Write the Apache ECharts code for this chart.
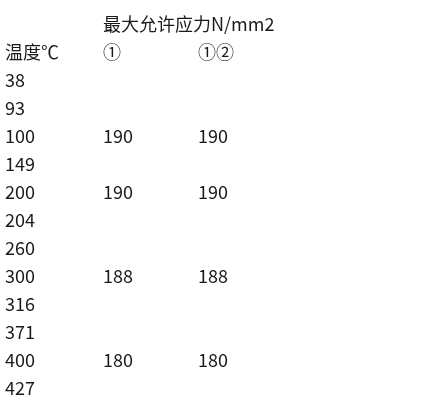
<!DOCTYPE html>
<html><head><meta charset="utf-8">
<script src="https://cdn.jsdelivr.net/npm/echarts@6/dist/echarts.min.js"></script>
<style>html,body{margin:0;padding:0;background:#fff}#main{width:442px;height:403px}</style>
</head><body><div id="main"></div>
<script>
// 温度与最大允许应力
var title = '最大允许应力N/mm2';
var headers = ['温度℃', '①', '①②'];
var temps = ['38', '93', '100', '149', '200', '204', '260', '300', '316', '371', '400', '427'];
var stress1 = ['', '', '190', '', '190', '', '', '188', '', '', '180', ''];
var stress2 = ['', '', '190', '', '190', '', '', '188', '', '', '180', ''];

var chart = echarts.init(document.getElementById('main'));
var colX = [5, 103, 198];
var font = '18px "Noto Sans CJK SC", sans-serif';
var els = [];
function txt(x, y, s) {
  els.push({ type: 'text', left: x, top: y, style: { text: s, font: font, fill: '#1a1a1a' } });
}
txt(colX[1], 15, title);
headers.forEach(function (h, i) { txt(colX[i], 43, h); });
temps.forEach(function (t, r) {
  var y = 71 + r * 28;
  txt(colX[0], y, t);
  txt(colX[1], y, stress1[r]);
  txt(colX[2], y, stress2[r]);
});
chart.setOption({ graphic: els });
</script></body></html>
